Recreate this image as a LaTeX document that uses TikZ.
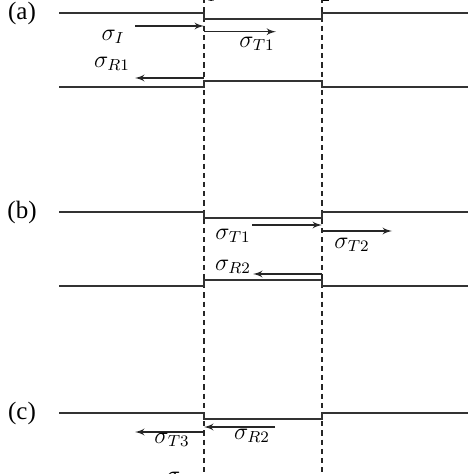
\documentclass[tikz,border=0pt]{standalone}
\usepackage{fontspec}
\setmainfont{Liberation Serif}
\usetikzlibrary{arrows}

\begin{document}
\begin{tikzpicture}[x=0.5pt,y=-0.5pt,>=latex',
    bar/.style={draw=black!80,line width=0.9pt},
    face/.style={draw=black!85,line width=0.75pt,dash pattern=on 2.6pt off 2pt},
    wave/.style={->,draw=black!85,line width=0.65pt},
    lbl/.style={font=\fontsize{11.5}{14}\selectfont,inner sep=0pt}]
\useasboundingbox (0,0) rectangle (474,474);
% interfaces
\coordinate(F1t)at(204, -2); \coordinate(F1b)at(204, 476);
\coordinate(F2t)at(322, -2); \coordinate(F2b)at(322, 476);
\path[](F1t) edge[face] (F1b)
    (F2t) edge[face] (F2b);
\node[lbl](x1)at(205, -5){$x_1$};
\node[lbl](x2)at(320, -5){$x_2$};
% bars of the three stages
\foreach \t/\b/\n in {13.3/87/a, 212.3/285.7/b, 413.3/487/c}{
    \draw[bar] (59, \t) -- (204, \t) -- (204, \t+5.5) -- (322, \t+5.5) -- (322, \t) -- (468, \t);
    \draw[bar] (59, \b) -- (204, \b) -- (204, \b-5.8) -- (322, \b-5.8) -- (322, \b) -- (468, \b);
    \node[lbl,font=\fontsize{12.5}{14}\selectfont](stage\n)at(22, \t){(\n)};
}
% (a)
\coordinate(aI1)at(135, 26); \coordinate(aI2)at(204, 26);
\coordinate(aR1)at(204, 78); \coordinate(aR2)at(135, 78);
\coordinate(aT1)at(204, 31.7); \coordinate(aT2)at(276, 31.7);
\path[](aI1) edge[wave] (aI2)
    (aR1) edge[wave] (aR2)
    (aT1) edge[wave] (aT2);
\node[lbl](sI)at(113, 37){$\sigma_{I}$};
\node[lbl](sR1)at(112, 64){$\sigma_{R1}$};
\node[lbl](sT1)at(257, 44){$\sigma_{T1}$};
% (b)
\coordinate(bT1)at(252, 225); \coordinate(bT2)at(322, 225);
\coordinate(bU1)at(322, 231); \coordinate(bU2)at(392, 231);
\coordinate(bR1)at(322, 274); \coordinate(bR2)at(253, 274);
\path[](bT1) edge[wave] (bT2)
    (bU1) edge[wave] (bU2)
    (bR1) edge[wave] (bR2);
\node[lbl](sbT1)at(233, 236){$\sigma_{T1}$};
\node[lbl](sbR2)at(233, 267){$\sigma_{R2}$};
\node[lbl](sbT2)at(352, 245){$\sigma_{T2}$};
% (c)
\coordinate(cT1)at(204, 432); \coordinate(cT2)at(135, 432);
\coordinate(cR1)at(275, 427); \coordinate(cR2)at(204, 427);
\path[](cT1) edge[wave] (cT2)
    (cR1) edge[wave] (cR2);
\node[lbl](scT3)at(172, 440){$\sigma_{T3}$};
\node[lbl](scR2)at(252, 436){$\sigma_{R2}$};
\node[lbl](scR3)at(184, 479){$\sigma_{R3}$};
\end{tikzpicture}
\end{document}
